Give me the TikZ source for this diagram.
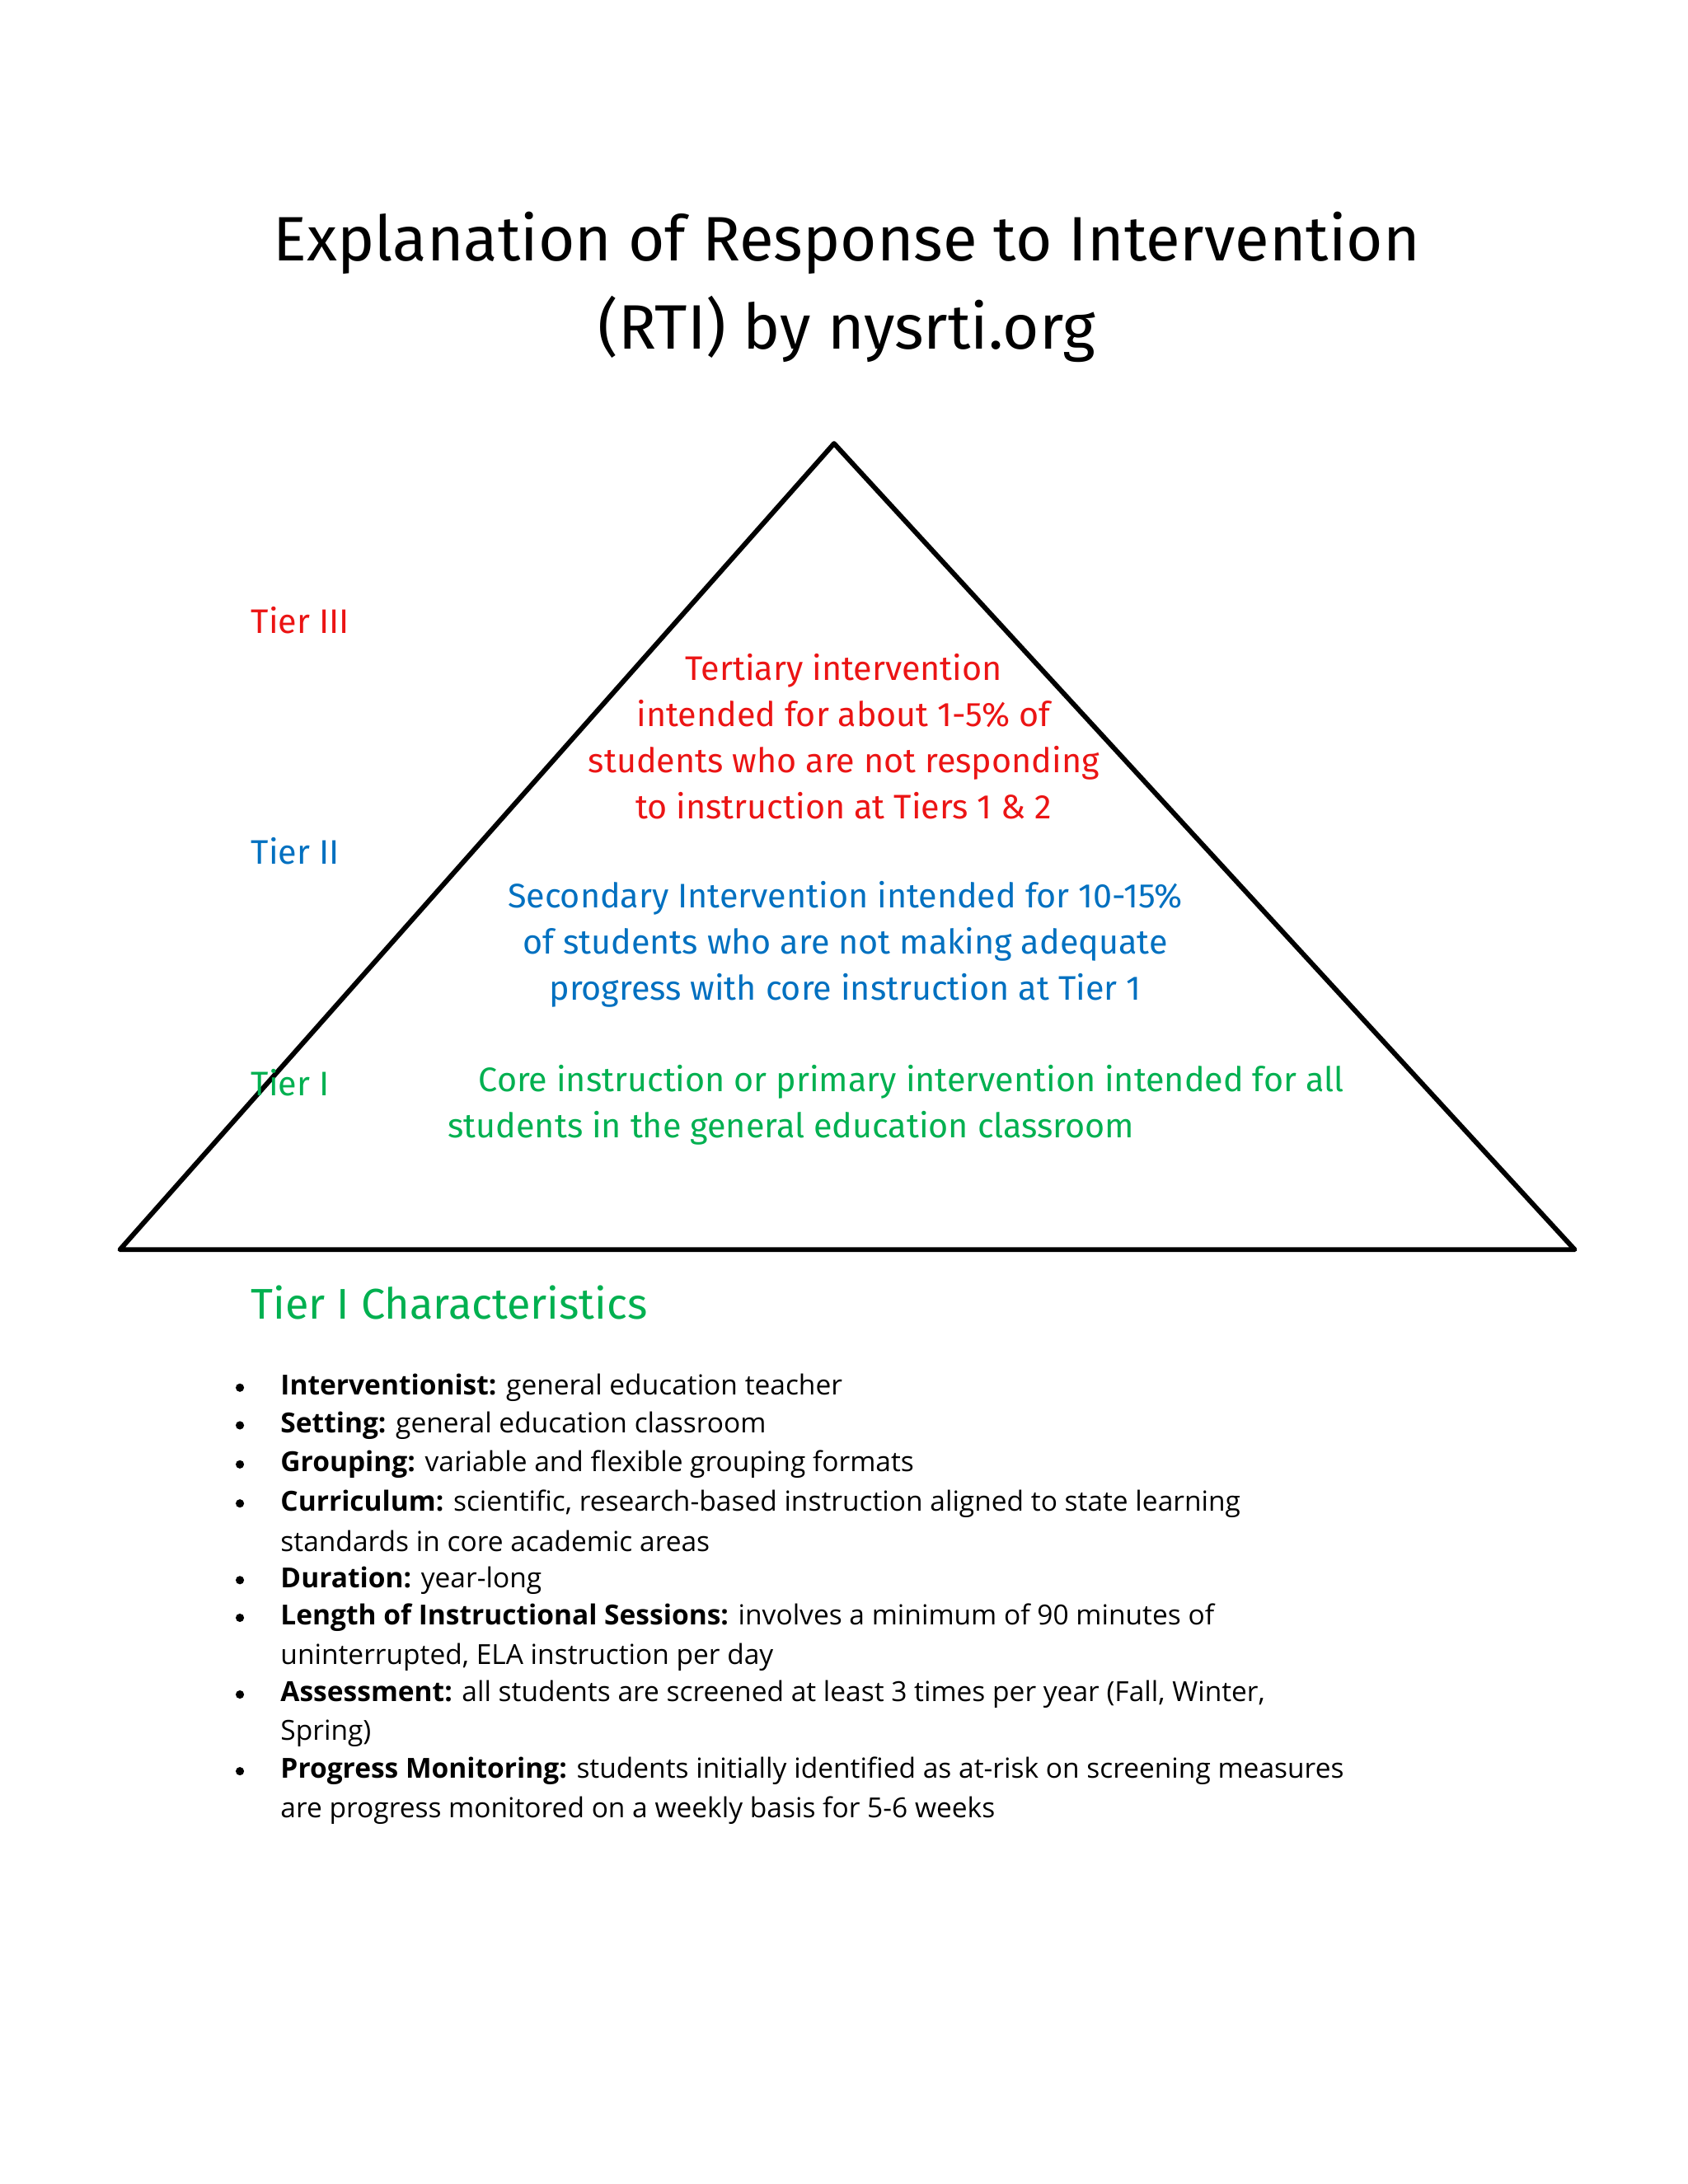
\documentclass[tikz,border=0pt]{standalone}
\usepackage{fontspec}
\setmainfont{Fira Sans}
\newfontfamily\bodyfont{Open Sans}
\definecolor{tred}{RGB}{235,20,20}
\definecolor{tblue}{RGB}{0,112,192}
\definecolor{tgreen}{RGB}{0,176,80}
\begin{document}
\begin{tikzpicture}[x=1pt,y=-1pt,
  lbl/.style={anchor=west,font=\fontsize{24.4}{28}\selectfont,inner sep=0},
  mid/.style={align=center,font=\fontsize{24.4}{33}\selectfont,inner sep=0},
  bul/.style={anchor=west,font=\bodyfont\fontsize{19.8}{27.5}\selectfont,inner sep=0,align=left}]
\useasboundingbox (0,0) rectangle (1210,1566);
\node[font=\fontsize{45}{63}\selectfont,align=center,inner sep=0] (title) at (607,206) {Explanation of Response to Intervention\\(RTI) by nysrti.org};
\coordinate (apex) at (598,318);
\coordinate (bl) at (86,896);
\coordinate (br) at (1129,896);
\draw[line width=3.5pt,line join=round] (apex) -- (br) -- (bl) -- cycle;
\node[lbl,tred] (t3) at (180,445) {Tier III};
\node[lbl,tblue] (t2) at (180,610) {Tier II};
\node[lbl,tgreen] (t1) at (180,776) {Tier I};
\node[mid,tred] (r) at (605,528) {Tertiary intervention\\intended for about 1-5\% of\\students who are not responding\\to instruction at Tiers 1 \& 2};
\node[mid,tblue] (b) at (606,677) {Secondary Intervention intended for 10-15\%\\of students who are not making adequate\\progress with core instruction at Tier 1};
\node[lbl,tgreen] (g1) at (343,776) {Core instruction or primary intervention intended for all};
\node[lbl,tgreen] (g2) at (321,809) {students in the general education classroom};
\node[anchor=west,inner sep=0,tgreen,font=\fontsize{30.8}{34}\selectfont] (ch) at (180,934) {Tier I Characteristics};
\foreach \y/\t in {995/{\textbf{Interventionist:} general education teacher},
 1022/{\textbf{Setting:} general education classroom},
 1050/{\textbf{Grouping:} variable and flexible grouping formats},
 1078/{\textbf{Curriculum:} scientific, research-based instruction aligned to state learning},
 1133/{\textbf{Duration:} year-long},
 1160/{\textbf{Length of Instructional Sessions:} involves a minimum of 90 minutes of},
 1215/{\textbf{Assessment:} all students are screened at least 3 times per year (Fall, Winter,},
 1270/{\textbf{Progress Monitoring:} students initially identified as at-risk on screening measures}}
 {\fill (172,\y) circle (3pt); \node[bul] at (201,\y) {\t};}
\foreach \y/\t in {1105/{standards in core academic areas},1188/{uninterrupted, ELA instruction per day},1243/{Spring)},1298/{are progress monitored on a weekly basis for 5-6 weeks}}
 {\node[bul] at (201,\y) {\t};}
\end{tikzpicture}
\end{document}
